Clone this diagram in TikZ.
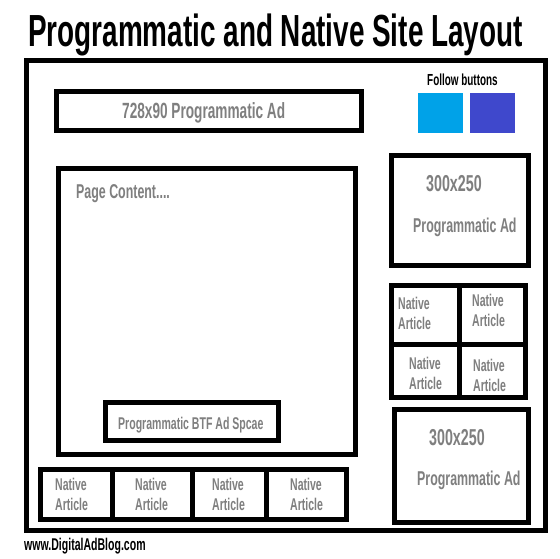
\documentclass[tikz,border=0pt]{standalone}
\usepackage{fontspec}
\setmainfont{Liberation Sans}[FakeStretch=0.62]
\usepackage{xcolor}
\definecolor{adgray}{HTML}{7f7f7f}
\definecolor{btnone}{HTML}{00a2e8}
\definecolor{btntwo}{HTML}{3f48cc}
\usepackage{tikz}
\tikzset{
    box/.style={
        draw, line width=5pt
    },
    lbl/.style={
        inner sep=0pt, color=adgray,
        font=\bfseries\fontsize{20}{22}\selectfont
    },
    nat/.style={
        lbl, align=left,
        font=\bfseries\fontsize{17}{20}\selectfont
    },
}

\begin{document}
\begin{tikzpicture}[x=1pt, y=-1pt]
        \useasboundingbox[fill=white] (0,0) rectangle (560,558);
        \node[inner sep=0pt, anchor=base west, font=\bfseries\fontsize{45}{48}\selectfont] (title) at (28,46) {Programmatic and Native Site Layout};

        % outer page frame
        \draw[box] (26.5,60.5) rectangle (545.5,530.5);

        % top row
        \draw[box] (56.5,91.5) rectangle (361.5,130.5);
        \node[lbl, anchor=base west, font=\bfseries\fontsize{22}{24}\selectfont] (leadtxt) at (122,118) {728x90 Programmatic Ad};
        \node[inner sep=0pt, anchor=base west, font=\bfseries\fontsize{16}{18}\selectfont] (fbtxt) at (427,85) {Follow buttons};
        \fill[btnone] (418,93) rectangle (463,133);
        \fill[btntwo] (470,93) rectangle (515,133);

        % page content
        \draw[box] (58.5,168.5) rectangle (355.5,454.5);
        \node[lbl, anchor=base west] (pagetxt) at (76,198) {Page Content....};
        \draw[box] (105.5,402.5) rectangle (278.5,440.5);
        \node[lbl, anchor=base west, font=\bfseries\fontsize{17}{18}\selectfont] (btftxt) at (118,429) {Programmatic BTF Ad Spcae};

        % right column
        \draw[box] (391.5,155.5) rectangle (528.5,265.5);
        \node[lbl, anchor=base west, font=\bfseries\fontsize{23}{24}\selectfont] (mpuAsize) at (426,191) {300x250};
        \node[lbl, anchor=base west] (mpuAtxt) at (413,232) {Programmatic Ad};
        \draw[box] (391.5,285.5) rectangle (525.5,397.5);
        \draw[box] (459.5,285.5) -- (459.5,397.5);
        \draw[box] (391.5,344.5) -- (525.5,344.5);
        \node[nat, anchor=west] (natA) at (398,313) {Native\\Article};
        \node[nat, anchor=west] (natB) at (472,310) {Native\\Article};
        \node[nat, anchor=west] (natC) at (409,373) {Native\\Article};
        \node[nat, anchor=west] (natD) at (473,375) {Native\\Article};
        \draw[box] (394.5,409.5) rectangle (528.5,522.5);
        \node[lbl, anchor=base west, font=\bfseries\fontsize{23}{24}\selectfont] (mpuBsize) at (429,445) {300x250};
        \node[lbl, anchor=base west] (mpuBtxt) at (417,485) {Programmatic Ad};

        % bottom row
        \draw[box] (40.5,469.5) rectangle (346.5,519.5);
        \foreach \x in {112,192,266.5}
            \draw[box] (\x,469.5) -- (\x,519.5);
        \foreach \x [count=\i] in {55,135,212,290}
            \node[nat, anchor=west] (row\i) at (\x,494) {Native\\Article};

        \node[inner sep=0pt, anchor=base west, font=\bfseries\fontsize{17}{18}\selectfont] (site) at (24,550) {www.DigitalAdBlog.com};
    \end{tikzpicture}
\end{document}
